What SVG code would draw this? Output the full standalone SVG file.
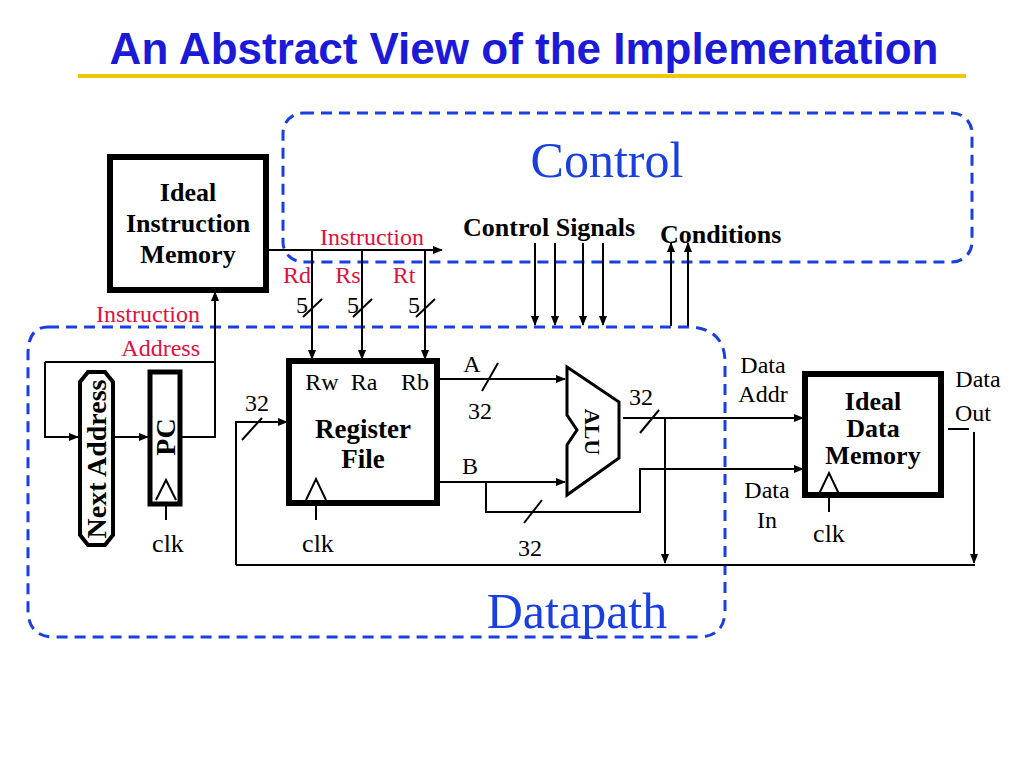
<svg xmlns="http://www.w3.org/2000/svg" width="1024" height="768" viewBox="0 0 1024 768">
<style>
.t{font-family:"Liberation Serif","Times New Roman",serif;font-size:26px;fill:#000}
.s{font-size:24px}
.b{font-weight:bold}
.r{fill:#e0103c}
.w{fill:none;stroke:#000;stroke-width:2}
.box{fill:#fff;stroke:#000;stroke-width:6}
.dash{fill:none;stroke:#1a3fe0;stroke-width:3;stroke-dasharray:11,7}
.big{font-family:"Liberation Serif","Times New Roman",serif;font-size:50px;fill:#1a3fe0;text-anchor:middle}
</style>
<defs>
<marker id="ah" markerWidth="10" markerHeight="10" refX="9" refY="5" orient="auto" markerUnits="userSpaceOnUse">
<path d="M0,1 L10,5 L0,9 Z" fill="#000"/>
</marker>
</defs>
<rect width="1024" height="768" fill="#fff"/>
<text x="524" y="64" text-anchor="middle" style="font-family:'Liberation Sans',Arial,sans-serif;font-size:44px;font-weight:bold;fill:#1a1ad8">An Abstract View of the Implementation</text>
<line x1="78" y1="76" x2="966" y2="76" stroke="#f0c800" stroke-width="4"/>
<g id="control">
<rect class="dash" x="283" y="113" width="689" height="149" rx="20"/>
<text class="big" x="607" y="177">Control</text>
</g>
<g id="datapath">
<path class="dash" d="M48,327 L692,327 Q725,330 725,362 L725,610 Q725,637 698,637 L55,637 Q28,637 28,610 L28,354 Q28,327 48,327 Z"/>
<text class="big" x="577" y="628">Datapath</text>
</g>
<g id="imem">
<rect class="box" x="110" y="157" width="156" height="133"/>
<text class="t b" text-anchor="middle" x="188" y="201">Ideal</text>
<text class="t b" text-anchor="middle" x="188" y="232">Instruction</text>
<text class="t b" text-anchor="middle" x="188" y="263">Memory</text>
</g>
<g id="nextaddr">
<path d="M88,372 L105,372 L113,382 L113,535 L105,545 L88,545 L80,535 L80,382 Z" fill="#fff" stroke="#000" stroke-width="4"/>
<text class="t b" text-anchor="middle" transform="translate(106,459) rotate(-90)" style="font-size:28px">Next Address</text>
</g>
<g id="pc">
<rect class="box" x="150" y="372" width="30" height="132" style="stroke-width:5"/>
<text class="t b" text-anchor="middle" transform="translate(175,437) rotate(-90)" style="font-size:28px">PC</text>
<path class="w" d="M156,500 L166,480 L176,500 M166,505 L166,520"/>
<text class="t" x="168" y="552" text-anchor="middle">clk</text>
</g>
<g id="regfile">
<rect class="box" x="289" y="361" width="148" height="142"/>
<text class="t s" x="322" y="390" text-anchor="middle">Rw</text>
<text class="t s" x="364" y="390" text-anchor="middle">Ra</text>
<text class="t s" x="415" y="390" text-anchor="middle">Rb</text>
<text class="t b" text-anchor="middle" x="363" y="438" style="font-size:27px">Register</text>
<text class="t b" text-anchor="middle" x="363" y="468" style="font-size:27px">File</text>
<path class="w" d="M306,500 L316,479 L326,500 M316,503 L316,520"/>
<text class="t" x="318" y="552" text-anchor="middle">clk</text>
</g>
<g id="alu">
<path d="M567,367 L619,402 L619,458 L567,495 L567,445 L577,430 L567,415 Z" fill="#fff" stroke="#000" stroke-width="3"/>
<text class="t b" text-anchor="middle" transform="translate(585,432) rotate(90)" style="font-size:22px">ALU</text>
</g>
<g id="dmem">
<rect class="box" x="805" y="374" width="136" height="121"/>
<text class="t b" text-anchor="middle" x="873" y="410">Ideal</text>
<text class="t b" text-anchor="middle" x="873" y="437">Data</text>
<text class="t b" text-anchor="middle" x="873" y="464">Memory</text>
<path class="w" d="M819,494 L829,473 L839,494 M829,495 L829,512"/>
<text class="t" x="829" y="542" text-anchor="middle">clk</text>
</g>
<g id="connectors">
<path class="w" d="M266,250 L442,250" marker-end="url(#ah)"/>
<path class="w" d="M312,250 L312,359" marker-end="url(#ah)"/>
<path class="w" d="M362,250 L362,359" marker-end="url(#ah)"/>
<path class="w" d="M425,250 L425,359" marker-end="url(#ah)"/>
<path class="w" d="M303,317 L322,299 M353,317 L372,299 M416,317 L435,299"/>
<path class="w" d="M45,362 L215,362 M45,362 L45,437 L78,437" marker-end="url(#ah)"/>
<path class="w" d="M113,437 L148,437" marker-end="url(#ah)"/>
<path class="w" d="M180,437 L215,437 L215,292" marker-end="url(#ah)"/>
<path class="w" d="M236,565 L236,422 L287,422" marker-end="url(#ah)"/>
<path class="w" d="M242,440 L262,418"/>
<path class="w" d="M437,379 L565,379" marker-end="url(#ah)"/>
<path class="w" d="M482,391 L498,363"/>
<path class="w" d="M437,482 L565,482" marker-end="url(#ah)"/>
<path class="w" d="M486,482 L486,512 L640,512 L640,469 L803,469" marker-end="url(#ah)"/>
<path class="w" d="M524,523 L542,500"/>
<path class="w" d="M623,418 L803,418" marker-end="url(#ah)"/>
<path class="w" d="M640,433 L659,410"/>
<path class="w" d="M665,418 L665,563" marker-end="url(#ah)"/>
<path class="w" d="M236,565 L975,565"/>
<path class="w" d="M948,429 L969,429"/>
<path class="w" d="M974,432 L974,563" marker-end="url(#ah)"/>
<path class="w" d="M535,243 L535,325" marker-end="url(#ah)"/>
<path class="w" d="M555,243 L555,325" marker-end="url(#ah)"/>
<path class="w" d="M583,243 L583,325" marker-end="url(#ah)"/>
<path class="w" d="M603,243 L603,325" marker-end="url(#ah)"/>
<path class="w" d="M671,326 L671,243" marker-end="url(#ah)"/>
<path class="w" d="M688,326 L688,243" marker-end="url(#ah)"/>
</g>
<g id="labels">
<text class="t r s" x="372" y="245" text-anchor="middle">Instruction</text>
<text class="t r s" x="297" y="283" text-anchor="middle">Rd</text>
<text class="t r s" x="348" y="283" text-anchor="middle">Rs</text>
<text class="t r s" x="404" y="283" text-anchor="middle">Rt</text>
<text class="t s" x="302" y="313" text-anchor="middle">5</text>
<text class="t s" x="353" y="313" text-anchor="middle">5</text>
<text class="t s" x="414" y="313" text-anchor="middle">5</text>
<text class="t r s" x="200" y="322" text-anchor="end">Instruction</text>
<text class="t r s" x="200" y="356" text-anchor="end">Address</text>
<text class="t b" x="463" y="236">Control Signals</text>
<text class="t b" x="660" y="243">Conditions</text>
<text class="t s" x="257" y="411" text-anchor="middle">32</text>
<text class="t s" x="472" y="372" text-anchor="middle">A</text>
<text class="t s" x="480" y="419" text-anchor="middle">32</text>
<text class="t s" x="470" y="474" text-anchor="middle">B</text>
<text class="t s" x="530" y="556" text-anchor="middle">32</text>
<text class="t s" x="641" y="405" text-anchor="middle">32</text>
<text class="t s" x="763" y="373" text-anchor="middle">Data</text>
<text class="t s" x="763" y="402" text-anchor="middle">Addr</text>
<text class="t s" x="767" y="498" text-anchor="middle">Data</text>
<text class="t s" x="767" y="528" text-anchor="middle">In</text>
<text class="t s" x="978" y="387" text-anchor="middle">Data</text>
<text class="t s" x="973" y="421" text-anchor="middle">Out</text>
</g>
</svg>
